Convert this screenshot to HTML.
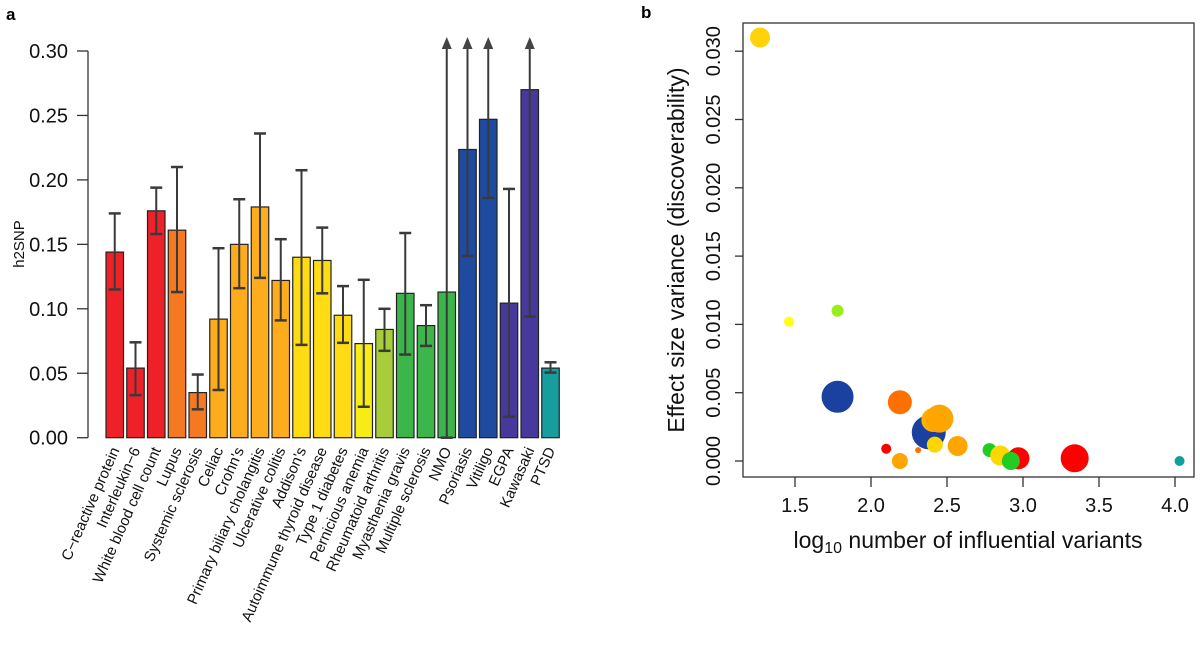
<!DOCTYPE html>
<html><head><meta charset="utf-8"><style>
html,body{margin:0;padding:0;background:#fff;}
svg{display:block;font-family:"Liberation Sans",Arial,sans-serif;}
</style></head><body>
<svg id="fig" width="1200" height="653" viewBox="0 0 1200 653" xmlns="http://www.w3.org/2000/svg">
<text x="6" y="20" font-size="17" font-weight="bold">a</text>
<text x="641" y="18" font-size="17" font-weight="bold">b</text>
<g id="barchart"></g>
<g id="scatter"></g>
</svg>
<script>
const categories = ["C\u2212reactive protein","Interleukin\u22126","White blood cell count","Lupus","Systemic sclerosis","Celiac","Crohn's","Primary biliary cholangitis","Ulcerative colitis","Addison's","Autoimmune thyroid disease","Type 1 diabetes","Pernicious anemia","Rheumatoid arthritis","Myasthenia gravis","Multiple sclerosis","NMO","Psoriasis","Vitiligo","EGPA","Kawasaki","PTSD"];
const h2Values = [0.144,0.054,0.176,0.161,0.035,0.092,0.150,0.179,0.122,0.140,0.1375,0.095,0.073,0.084,0.112,0.087,0.113,0.2236,0.247,0.1044,0.270,0.054];
const errLow = [0.115,0.033,0.158,0.113,0.022,0.037,0.116,0.124,0.091,0.072,0.112,0.0736,0.024,0.0674,0.0645,0.0712,0.0,0.141,0.186,0.0163,0.094,0.0505];
const errHigh = [0.174,0.074,0.194,0.210,0.049,0.147,0.185,0.236,0.154,0.2075,0.163,0.1176,0.1225,0.100,0.1588,0.1028,null,null,null,0.193,null,0.0585];
const barColors = ["#ee2028","#ee2028","#ee2028","#f47920","#f47920","#fcac1d","#fcac1d","#fcac1d","#fcac1d","#fedb12","#fedb12","#fedb12","#f7ec15","#a7ce3a","#3cb54b","#3cb54b","#3cb54b","#1e4aa0","#1e4aa0","#46399b","#46399b","#189d9e"];
const yTicksA = [0,0.05,0.10,0.15,0.20,0.25,0.30];
const yTickLabelsA = ["0.00","0.05","0.10","0.15","0.20","0.25","0.30"];

const scatterX = [1.27,1.46,1.78,1.78,2.19,2.38,2.41,2.45,2.10,2.31,2.19,2.42,2.57,2.78,2.85,2.97,2.92,3.34,4.03];
const scatterY = [0.0310,0.0102,0.0110,0.0047,0.0043,0.0021,0.0030,0.0031,0.0009,0.0008,0.0000,0.0012,0.0011,0.0008,0.0004,0.0002,0.0000,0.0002,0.0000];
const scatterSize = [10,5,6,16,12,17,12,14,5,3,8,8,10,7,10,11,9,14,5];
const scatterColors = ["#ffd20a","#ffff1a","#99ee1a","#1a41a0","#ff7000","#1a41a0","#ffb000","#ffa500","#ff0000","#ff7000","#ffa500","#ffd700","#ffa500","#22cc22","#ffd700","#ff0000","#22cc22","#ff0000","#109e9e"];
const xTicksB = [1.5,2.0,2.5,3.0,3.5,4.0];
const xTickLabelsB = ["1.5","2.0","2.5","3.0","3.5","4.0"];
const yTicksB = [0,0.005,0.010,0.015,0.020,0.025,0.030];
const yTickLabelsB = ["0.000","0.005","0.010","0.015","0.020","0.025","0.030"];

const NS="http://www.w3.org/2000/svg";
function mk(tag, attrs, parent){const e=document.createElementNS(NS,tag);for(const k in attrs)e.setAttribute(k,attrs[k]);parent.appendChild(e);return e;}

// ---- Panel a
const A = document.getElementById('barchart');
const yA = v => 437.7 - v*(386.7/0.30);
const barLeft = i => 106 + i*20.75;
const barW = 17.5;
let axA = mk('line',{x1:88,y1:yA(0),x2:88,y2:yA(0.30),stroke:'#333','stroke-width':1.3},A);


yTicksA.forEach((t,i)=>{
  let tk=mk('line',{x1:77,y1:yA(t),x2:88,y2:yA(t),stroke:'#333','stroke-width':1.3},A);
  
  
  let lb=mk('text',{x:68,y:yA(t)+7,'font-size':20,'text-anchor':'end',fill:'#111'},A);
  lb.textContent=yTickLabelsA[i];
  
  
});
let ylA=mk('text',{x:0,y:0,'font-size':15,'text-anchor':'middle',fill:'#111',transform:'translate(24,244) rotate(-90)'},A);
ylA.textContent='h2SNP';


categories.forEach((c,i)=>{
  const x=barLeft(i), cx=x+barW/2;
  let r=mk('rect',{x:x,y:yA(h2Values[i]),width:barW,height:yA(0)-yA(h2Values[i]),fill:barColors[i],stroke:'#222','stroke-width':1.2},A);
  
  
  const lo=yA(errLow[i]);
  const hasHigh = errHigh[i]!==null;
  const hi = hasHigh ? yA(errHigh[i]) : 49;
  let el=mk('line',{x1:cx,y1:lo,x2:cx,y2:hi,stroke:'#3a3a3a','stroke-width':2},A);
  
  
  let lc=mk('line',{x1:cx-6,y1:lo,x2:cx+6,y2:lo,stroke:'#3a3a3a','stroke-width':2.5},A);
  
  
  if(hasHigh){
    let hc=mk('line',{x1:cx-6,y1:hi,x2:cx+6,y2:hi,stroke:'#3a3a3a','stroke-width':2.5},A);
    
    
  } else {
    let ar=mk('polygon',{points:`${cx-5},49 ${cx+5},49 ${cx},37`,fill:'#444'},A);
    
    
  }
  let t=mk('text',{x:0,y:0,'font-size':15,'text-anchor':'end',fill:'#111',transform:`translate(${cx+5},450) rotate(-66)`},A);
  t.textContent=c;
  
  
});

// ---- Panel b
const B = document.getElementById('scatter');
const xB = v => 1023 + (v-3.0)*152;
const yB = v => 461 - v*(68.3/0.005);
let box=mk('rect',{x:743,y:23,width:451,height:454,fill:'none',stroke:'#333','stroke-width':1.3},B);


xTicksB.forEach((t,i)=>{
  let tk=mk('line',{x1:xB(t),y1:477,x2:xB(t),y2:487,stroke:'#333','stroke-width':1.3},B);
  
  
  let lb=mk('text',{x:xB(t),y:512,'font-size':20,'text-anchor':'middle',fill:'#111'},B);
  lb.textContent=xTickLabelsB[i];
  
  
});
yTicksB.forEach((t,i)=>{
  let tk=mk('line',{x1:735,y1:yB(t),x2:743,y2:yB(t),stroke:'#333','stroke-width':1.3},B);
  
  
  let lb=mk('text',{x:0,y:0,'font-size':20,'text-anchor':'middle',fill:'#111',transform:`translate(720,${yB(t)}) rotate(-90)`},B);
  lb.textContent=yTickLabelsB[i];
  
  
});
let xl=mk('text',{x:968,y:548,'font-size':23,'text-anchor':'middle',fill:'#111'},B);
xl.innerHTML='log<tspan font-size="16" dy="5">10</tspan><tspan dy="-5"> number of influential variants</tspan>';


let yl=mk('text',{x:0,y:0,'font-size':23,'text-anchor':'middle',fill:'#111',transform:'translate(684,250) rotate(-90)'},B);
yl.textContent='Effect size variance (discoverability)';


scatterX.forEach((v,i)=>{
  let c=mk('circle',{cx:xB(v),cy:yB(scatterY[i]),r:scatterSize[i],fill:scatterColors[i]},B);
  
  
});
</script>
</body></html>
